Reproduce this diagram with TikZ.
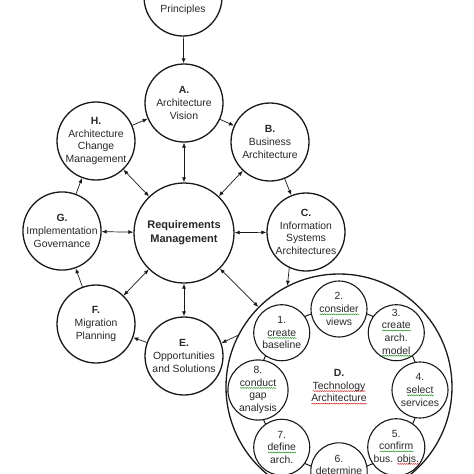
\documentclass[tikz,border=0pt]{standalone}
\usepackage{fontspec}
\setmainfont{Liberation Sans}
\usepackage{tikz}
\usetikzlibrary{arrows.meta, decorations.pathmorphing}
\definecolor{linecolor}{RGB}{25, 25, 25}
\definecolor{textcolor}{RGB}{40, 40, 40}
\definecolor{grammarcolor}{RGB}{40, 150, 40}
\definecolor{spellcolor}{RGB}{210, 40, 40}
% wavy proofing underline under a word
\newsavebox\sqbox
\newcommand{\sq}[2]{\sbox\sqbox{#2}\rlap{\raisebox{-2.4pt}{\tikz\draw[draw=#1, line width=0.5pt, decorate,
  decoration={snake, amplitude=0.45pt, segment length=2.2pt}] (0,0) -- (\wd\sqbox,0);}}\usebox\sqbox}
\newcommand{\gsq}[1]{\sq{grammarcolor}{#1}}
\newcommand{\rsq}[1]{\sq{spellcolor}{#1}}
\tikzset{
    phase/.style = {
        circle, minimum size=78pt, inner sep=0pt, align=center, draw=linecolor,
        line width=1.3pt, fill=white, text=textcolor, font=\fontsize{10.4}{12.6}\selectfont
    },
    core/.style = {phase, minimum size=100pt, font=\fontsize{11}{14}\selectfont\bfseries},
    techphase/.style = {phase, minimum size=226pt},
    substep/.style = {phase, minimum size=56pt, line width=1.1pt},
    ring/.style = {draw=linecolor, line width=1pt},
    arrow/.style = {-{Latex[length=5pt,width=4pt]}, line width=0.7pt, draw=linecolor},
    biarrow/.style = {arrow, {Latex[length=5pt,width=4pt]}-{Latex[length=5pt,width=4pt]}}
}
\begin{document}
\begin{tikzpicture}[x=1pt, y=-1pt]
\useasboundingbox (0,0) rectangle (474,474);
\clip (0,0) rectangle (474,474);
% Nodes
\node[phase] (prelim) at (183,-3) {};
\node[text=textcolor, font=\fontsize{10.4}{12.6}\selectfont] (prin) at (183,10) {Principles};
\node[phase] (A) at (184,103) {\textbf{A.}\\Architecture\\Vision};
\node[phase] (B) at (270,142) {\textbf{B.}\\Business\\Architecture};
\node[phase] (C) at (306,232) {\textbf{C.}\\Information\\Systems\\Architectures};
\node[techphase] (D) at (339,387) {\textbf{D.}\\\rsq{Technology}\\\rsq{Architecture}};
\node[phase] (E) at (184,356) {\textbf{E.}\\Opportunities\\and Solutions};
\node[phase] (F) at (96,324) {\textbf{F.}\\Migration\\Planning};
\node[phase] (G) at (62,231) {\textbf{G.}\\Implementation\\Governance};
\node[phase] (H) at (96,141) {\textbf{H.}\\Architecture\\Change\\Management};
\node[core] (req) at (184,233) {Requirements\\Management};
% Steps inside D
\coordinate (hub) at (339,390);
\draw[ring] (hub) circle (81pt);
\node[substep] (s1) at ([shift={(135:81pt)}]hub) {1.\\\gsq{create}\\baseline};
\node[substep] (s2) at ([shift={(90:81pt)}]hub) {2.\\\gsq{consider}\\views};
\node[substep] (s3) at ([shift={(45:81pt)}]hub) {3.\\\gsq{create}\\arch.\\\gsq{model}};
\node[substep] (s4) at ([shift={(0:81pt)}]hub) {4.\\\gsq{select}\\services};
\node[substep] (s5) at ([shift={(-45:81pt)}]hub) {5.\\\gsq{confirm}\\bus. \rsq{objs.}};
\node[substep] (s6) at ([shift={(-90:81pt)}]hub) {6.\\determine\\\mbox{}};
\node[substep] (s7) at ([shift={(-135:81pt)}]hub) {7.\\\gsq{define}\\arch.};
\node[substep] (s8) at ([shift={(180:81pt)}]hub) {8.\\\gsq{conduct}\\gap\\analysis};
% Arrows
\draw[arrow] (prelim) -- (A);
\draw[arrow] (A) -- (B);
\draw[arrow] (B) -- (C);
\draw[arrow] (C.245) -- (D.117);
\draw[arrow] (D.153) -- (E.19);
\draw[arrow] (E) -- (F);
\draw[arrow] (F) -- (G);
\draw[arrow] (G) -- (H);
\draw[arrow] (H) -- (A);
% Links to requirements management
\foreach \ph in {A, B, C, D, E, F, G, H}
    \draw[biarrow] (req) -- (\ph);
\end{tikzpicture}
\end{document}
